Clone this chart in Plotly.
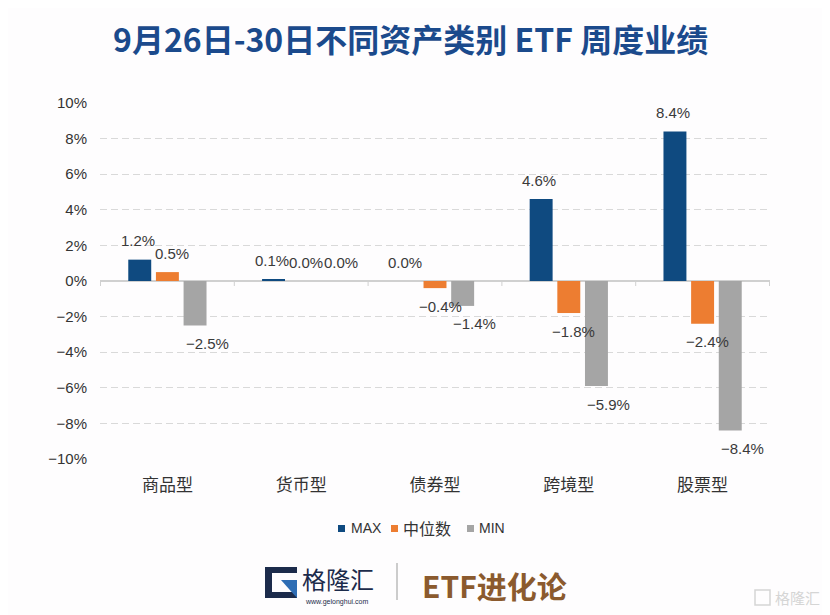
import plotly.graph_objects as go

categories = ["商品型", "货币型", "债券型", "跨境型", "股票型"]
max_vals = [1.2, 0.1, 0.0, 4.6, 8.4]
median_vals = [0.5, 0.0, -0.4, -1.8, -2.4]
min_vals = [-2.5, 0.0, -1.4, -5.9, -8.4]
series_names = ["MAX", "中位数", "MIN"]
colors = ["#0F4A80", "#ED7D31", "#A5A5A5"]
tick_vals = [-10, -8, -6, -4, -2, 0, 2, 4, 6, 8, 10]
tick_text = [f"{v}%".replace("-", "\u2212") for v in tick_vals]

OFF = 8  # page body margin
W, H = 830 - OFF, 615 - OFF
L, R, T, B = 100 - OFF, 60, 103 - OFF, 156
PW, PH = W - L - R, H - T - B
LAT = "Liberation Sans, Arial, sans-serif"
CJK = "Noto Sans CJK SC"


def px(x):
    return (x - OFF - L) / PW


def py(y):
    return (H - B - (y - OFF)) / PH


def fmt(v):
    return f"{v:.1f}%".replace("-", "\u2212")


fig = go.Figure()
all_vals = [max_vals, median_vals, min_vals]
for name, vals, col in zip(series_names, all_vals, colors):
    fig.add_trace(go.Bar(x=categories, y=vals, name=name, marker_color=col,
                         marker_line_width=0, showlegend=False))

annotations = []
slot = PW / len(categories) * (1 - 0.38) / 3
dxs = [-2, 5, 12]
for i, vals in enumerate(all_vals):
    for cat, v in zip(categories, vals):
        annotations.append(dict(
            x=cat, y=v, xref="x", yref="y", text=fmt(v), showarrow=False,
            xshift=(i - 1) * slot + dxs[i], yshift=(19 if v >= 0 else -18),
            xanchor="center", yanchor="middle",
            font=dict(family=LAT, size=15, color="#3A3A3A")))

shapes = []
# category boundary tick marks hanging from the zero line
for k in range(len(categories) + 1):
    shapes.append(dict(type="line", xref="x", yref="y", x0=k - 0.5, x1=k - 0.5,
                       ysizemode="pixel", yanchor=0, y0=0, y1=-5,
                       line=dict(color="#D0D0D0", width=1)))

# custom legend
leg_sq_x = [338, 391, 467]
leg_tx_x = [349, 401, 477]
for sx, tx, name, col in zip(leg_sq_x, leg_tx_x, series_names, colors):
    shapes.append(dict(type="rect", xref="paper", yref="paper",
                       x0=px(sx), x1=px(sx + 7), y0=py(532), y1=py(525),
                       fillcolor=col, line=dict(width=0)))
    annotations.append(dict(text=name, x=px(tx), y=py(528), xref="paper", yref="paper",
                            showarrow=False, xanchor="left", yanchor="middle",
                            font=dict(family=(LAT if name != "中位数" else CJK),
                                      size=(14 if name != "中位数" else 16), color="#333333")))

# G logo
shapes.append(dict(type="rect", xref="paper", yref="paper",
                   x0=px(265), x1=px(297), y0=py(598), y1=py(567),
                   fillcolor="#1C2B4B", line=dict(width=0), layer="above"))
shapes.append(dict(type="rect", xref="paper", yref="paper",
                   x0=px(272), x1=px(297), y0=py(592), y1=py(573),
                   fillcolor="#FEFDFE", line=dict(width=0), layer="above"))
shapes.append(dict(type="path", xref="paper", yref="paper",
                   path=f"M {px(281)},{py(580)} L {px(297)},{py(580)} L {px(297)},{py(598)} Z",
                   fillcolor="#2E6DB4", line=dict(width=0), layer="above"))
# divider
shapes.append(dict(type="line", xref="paper", yref="paper",
                   x0=px(397), x1=px(397), y0=py(600), y1=py(563),
                   line=dict(color="#BBBBBB", width=1.5)))
# watermark icon
shapes.append(dict(type="rect", xref="paper", yref="paper",
                   x0=px(755), x1=px(770), y0=py(605), y1=py(590),
                   fillcolor="rgba(0,0,0,0)", line=dict(color="#D5D5D5", width=1.5)))

annotations += [
    dict(text="<b>9月26日-30日不同资产类别 ETF 周度业绩</b>", x=px(410), y=py(38),
         xref="paper", yref="paper", showarrow=False, xanchor="center", yanchor="middle",
         font=dict(family=CJK, size=32, color="#1B4A8C")),
    dict(text="格隆汇", x=px(300), y=py(578), xref="paper", yref="paper", showarrow=False,
         xanchor="left", yanchor="middle",
         font=dict(family=CJK, size=24, color="#1C2B4B")),
    dict(text="www.gelonghui.com", x=px(303), y=py(602), xref="paper", yref="paper",
         showarrow=False, xanchor="left", yanchor="middle",
         font=dict(family=LAT, size=7, color="#1C2B4B")),
    dict(text="<b>ETF进化论</b>", x=px(420), y=py(585), xref="paper", yref="paper",
         showarrow=False, xanchor="left", yanchor="middle",
         font=dict(family=CJK, size=30, color="#8B5A2E")),
    dict(text="格隆汇", x=px(773), y=py(597), xref="paper", yref="paper", showarrow=False,
         xanchor="left", yanchor="middle",
         font=dict(family=CJK, size=15, color="#D5D5D5")),
]

fig.update_layout(
    width=W, height=H,
    margin=dict(l=L, r=R, t=T, b=B, autoexpand=False),
    paper_bgcolor="#FEFDFE", plot_bgcolor="#FEFDFE",
    barmode="group", bargap=0.38, bargroupgap=0.17,
    showlegend=False,
    shapes=shapes, annotations=annotations,
)
fig.update_xaxes(showgrid=False, showline=False, ticks="",
                 ticklabelstandoff=14,
                 tickfont=dict(family=CJK, size=17, color="#333333"))
fig.update_yaxes(range=[-10, 10], tickvals=tick_vals, ticktext=tick_text,
                 showgrid=True, gridcolor="#D9D9D9", griddash="7px,4px", gridwidth=1,
                 zeroline=True, zerolinecolor="#D0D0D0", zerolinewidth=1.5,
                 tickfont=dict(family=LAT, size=15, color="#333333"),
                 ticklabelstandoff=12)

fig.write_html("out.html")
